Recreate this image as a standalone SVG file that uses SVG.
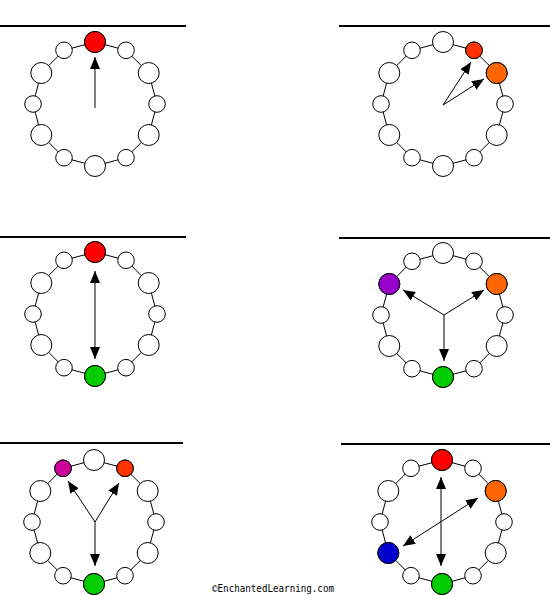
<svg xmlns="http://www.w3.org/2000/svg" width="550" height="595" viewBox="0 0 550 595">
<style>
.rule{stroke:#000;stroke-width:2}
.ring{fill:none;stroke:#000;stroke-width:1}
circle{stroke:#000;stroke-width:1;fill:#fff}
.arr{stroke:#000;stroke-width:1;fill:none}
.red{fill:#ff0000}.ro{fill:#ff3300}.or{fill:#ff6600}.gr{fill:#00cc00}.pu{fill:#9900cc}.mg{fill:#cc0099}.bl{fill:#0000cc}
text{font-family:"DejaVu Sans Mono","Liberation Mono",monospace;font-size:11px;fill:#000}
</style>
<defs>
<marker id="ah" viewBox="0 0 12 10" refX="12" refY="5" markerWidth="12" markerHeight="10" markerUnits="userSpaceOnUse" orient="auto-start-reverse">
<path d="M0,0 L12,5 L0,10 Z" fill="#000"/>
</marker>
<g id="base">
<polygon class="ring" points="0,-62 31,-53.7 53.7,-31 62,0 53.7,31 31,53.7 0,62 -31,53.7 -53.7,31 -62,0 -53.7,-31 -31,-53.7"/>
<circle cx="0" cy="-62" r="10.5"/>
<circle cx="31" cy="-53.7" r="8.3"/>
<circle cx="53.7" cy="-31" r="10.5"/>
<circle cx="62" cy="0" r="8.3"/>
<circle cx="53.7" cy="31" r="10.5"/>
<circle cx="31" cy="53.7" r="8.3"/>
<circle cx="0" cy="62" r="10.5"/>
<circle cx="-31" cy="53.7" r="8.3"/>
<circle cx="-53.7" cy="31" r="10.5"/>
<circle cx="-62" cy="0" r="8.3"/>
<circle cx="-53.7" cy="-31" r="10.5"/>
<circle cx="-31" cy="-53.7" r="8.3"/>
</g>
</defs>
<g id="rules">
<line class="rule" x1="0" y1="26" x2="186" y2="26"/>
<line class="rule" x1="339" y1="26" x2="550" y2="26"/>
<line class="rule" x1="0" y1="237" x2="186" y2="237"/>
<line class="rule" x1="339" y1="238" x2="550" y2="238"/>
<line class="rule" x1="0" y1="443" x2="183" y2="443"/>
<line class="rule" x1="341" y1="444" x2="550" y2="444"/>
</g>
<g id="wheel1" transform="translate(95,104)">
<use href="#base"/>
<circle class="red" cx="0" cy="-62" r="10.5"/>
</g>
<g id="wheel2" transform="translate(443,104)">
<use href="#base"/>
<circle class="ro" cx="31" cy="-53.7" r="8.3"/>
<circle class="or" cx="53.7" cy="-31" r="10.5"/>
</g>
<g id="wheel3" transform="translate(95,314)">
<use href="#base"/>
<circle class="red" cx="0" cy="-62" r="10.5"/>
<circle class="gr" cx="0" cy="62" r="10.5"/>
</g>
<g id="wheel4" transform="translate(443,315)">
<use href="#base"/>
<circle class="or" cx="53.7" cy="-31" r="10.5"/>
<circle class="gr" cx="0" cy="62" r="10.5"/>
<circle class="pu" cx="-53.7" cy="-31" r="10.5"/>
</g>
<g id="wheel5" transform="translate(94,522)">
<use href="#base"/>
<circle class="ro" cx="31" cy="-53.7" r="8.3"/>
<circle class="gr" cx="0" cy="62" r="10.5"/>
<circle class="mg" cx="-31" cy="-53.7" r="8.3"/>
</g>
<g id="wheel6" transform="translate(442,522)">
<use href="#base"/>
<circle class="red" cx="0" cy="-62" r="10.5"/>
<circle class="or" cx="53.7" cy="-31" r="10.5"/>
<circle class="gr" cx="0" cy="62" r="10.5"/>
<circle class="bl" cx="-53.7" cy="31" r="10.5"/>
</g>
<g id="connectors">
<line class="arr" x1="95" y1="108" x2="95" y2="57" marker-end="url(#ah)"/>
<line class="arr" x1="443" y1="105" x2="471" y2="62" marker-end="url(#ah)"/>
<line class="arr" x1="443" y1="105" x2="484" y2="79" marker-end="url(#ah)"/>
<line class="arr" x1="95" y1="271" x2="95" y2="359" marker-start="url(#ah)" marker-end="url(#ah)"/>
<line class="arr" x1="444" y1="315" x2="403" y2="290" marker-end="url(#ah)"/>
<line class="arr" x1="444" y1="315" x2="484" y2="290" marker-end="url(#ah)"/>
<line class="arr" x1="444" y1="315" x2="444" y2="361" marker-end="url(#ah)"/>
<line class="arr" x1="95" y1="522" x2="68" y2="481" marker-end="url(#ah)"/>
<line class="arr" x1="95" y1="522" x2="119" y2="483" marker-end="url(#ah)"/>
<line class="arr" x1="95" y1="522" x2="95" y2="566" marker-end="url(#ah)"/>
<line class="arr" x1="441" y1="477" x2="441" y2="566" marker-start="url(#ah)" marker-end="url(#ah)"/>
<line class="arr" x1="478" y1="498" x2="403" y2="546" marker-start="url(#ah)" marker-end="url(#ah)"/>
</g>
<text id="credit" x="212" y="592" textLength="122" lengthAdjust="spacingAndGlyphs">©EnchantedLearning.com</text>
</svg>
